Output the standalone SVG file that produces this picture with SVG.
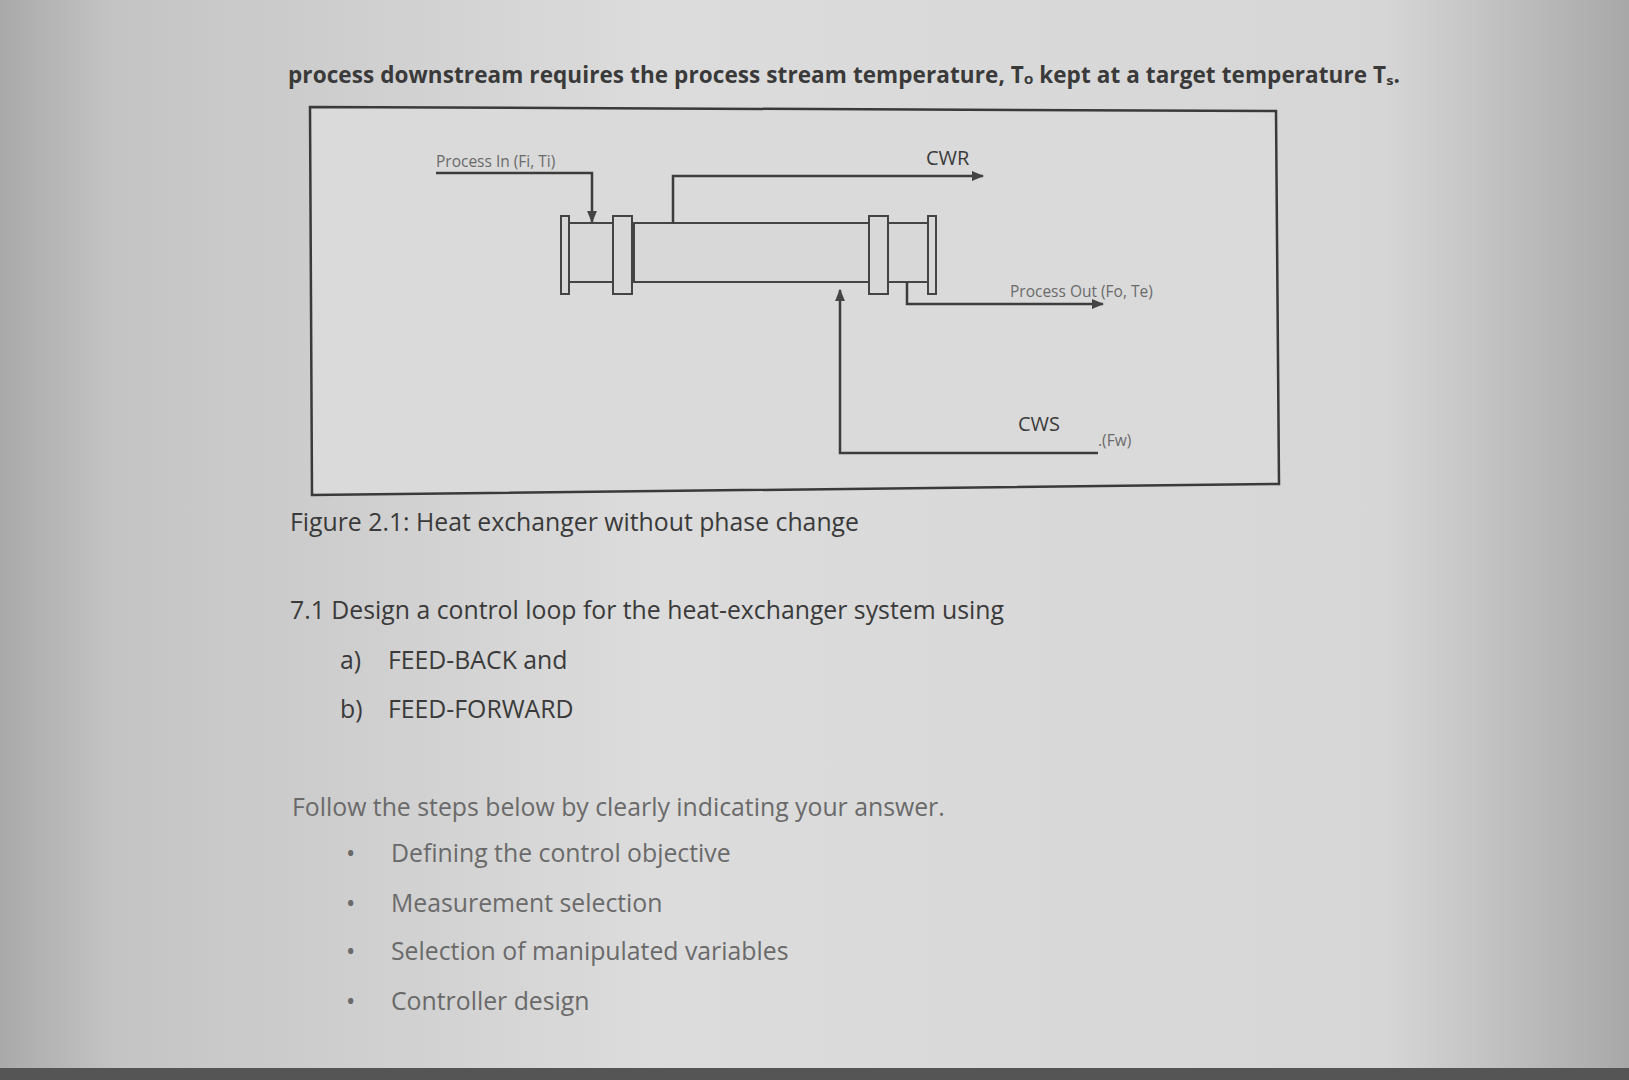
<svg xmlns="http://www.w3.org/2000/svg" width="1629" height="1080" viewBox="0 0 1629 1080">
<defs>
<linearGradient id="bg" x1="0" y1="0" x2="1" y2="0">
<stop offset="0" stop-color="#a9a9a9"/><stop offset="0.07" stop-color="#c4c4c4"/><stop offset="0.4" stop-color="#dcdcdc"/><stop offset="0.85" stop-color="#d6d6d6"/><stop offset="1" stop-color="#a8a8a8"/>
</linearGradient>
<marker id="arr" viewBox="0 0 10 10" refX="9" refY="5" markerWidth="5" markerHeight="5" orient="auto"><path d="M0,1 L10,5 L0,9 z" fill="#444"/></marker>
<style>
.t{font-family:"Open Sans","Liberation Sans",sans-serif;fill:#3a3a3a}
.g{font-family:"Open Sans","Liberation Sans",sans-serif;fill:#6a6a6a;font-size:24.8px}
.ln{stroke:#3c3c3c;stroke-width:2.5;fill:none}
.pl{fill:#d8d8d8;stroke:#444;stroke-width:2}
.s{font-family:"Open Sans","Liberation Sans",sans-serif;fill:#6a6a6a;font-size:15.5px}
</style>
</defs>
<rect width="1629" height="1080" fill="url(#bg)"/>
<rect x="0" y="1068" width="1629" height="12" fill="#555"/>
<text x="288" y="83" class="t" font-size="22.5" font-weight="bold" fill="#2e2e2e" textLength="1112">process downstream requires the process stream temperature, Tₒ kept at a target temperature Tₛ.</text>
<polygon points="310,107 1276,111 1279,484 312,495" fill="#dadada" stroke="#3a3a3a" stroke-width="2.5"/>
<g id="exchanger">
<rect x="634" y="223" width="236" height="59" class="pl"/>
<rect x="569" y="223" width="46" height="59" class="pl"/>
<rect x="888" y="223" width="40" height="59" class="pl"/>
<rect x="561" y="216" width="8" height="78" class="pl"/>
<rect x="613" y="216" width="19" height="78" class="pl"/>
<rect x="869" y="216" width="19" height="78" class="pl"/>
<rect x="928" y="216" width="8" height="78" class="pl"/>
</g>
<g id="connectors">
<polyline points="436,173 592,173 592,222" class="ln" marker-end="url(#arr)"/>
<polyline points="673,223 673,176 983,176" class="ln" marker-end="url(#arr)"/>
<polyline points="907,282 907,304 1103,304" class="ln" marker-end="url(#arr)"/>
<polyline points="1098,453 840,453 840,290" class="ln" marker-end="url(#arr)"/>
</g>
<g id="labels">
<text x="436" y="167" class="s">Process In (Fi, Ti)</text>
<text x="926" y="165" class="t" font-size="20">CWR</text>
<text x="1010" y="297" class="s">Process Out (Fo, Te)</text>
<text x="1018" y="431" class="t" font-size="20">CWS</text>
<text x="1098" y="446" class="s" font-size="12">.(Fw)</text>
</g>
<text x="290" y="531" class="t" font-size="24.8">Figure 2.1: Heat exchanger without phase change</text>
<text x="290" y="619" class="t" font-size="24.8">7.1 Design a control loop for the heat-exchanger system using</text>
<text x="340" y="669" class="t" font-size="24.8">a)</text><text x="388" y="669" class="t" font-size="24.8">FEED-BACK and</text>
<text x="340" y="718" class="t" font-size="24.8">b)</text><text x="388" y="718" class="t" font-size="24.8">FEED-FORWARD</text>
<text x="292" y="816" class="g">Follow the steps below by clearly indicating your answer.</text>
<g class="g">
<text x="346" y="862">•</text><text x="391" y="862">Defining the control objective</text>
<text x="346" y="912">•</text><text x="391" y="912">Measurement selection</text>
<text x="346" y="960">•</text><text x="391" y="960">Selection of manipulated variables</text>
<text x="346" y="1010">•</text><text x="391" y="1010">Controller design</text>
</g>
</svg>
